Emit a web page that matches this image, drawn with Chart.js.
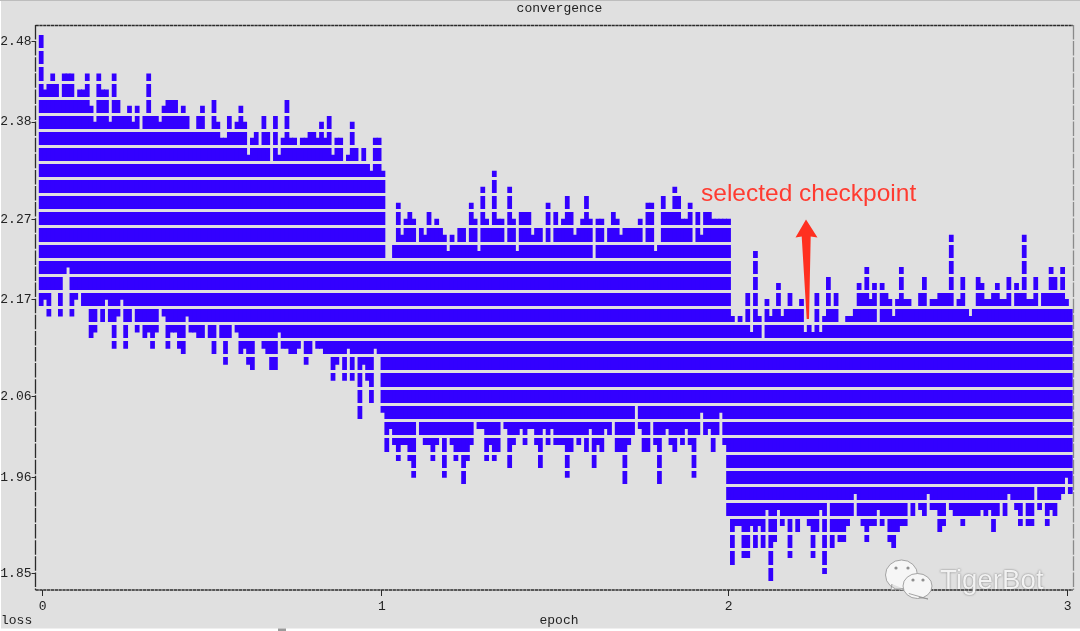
<!DOCTYPE html>
<html>
<head>
<meta charset="utf-8">
<title>convergence</title>
<script src="https://cdn.jsdelivr.net/npm/chart.js@4"></script>
<style>
  html, body { margin: 0; padding: 0; background: #fff; overflow: hidden; }
  canvas { display: block; }
</style>
</head>
<body>
<canvas id="chart" width="1080" height="631"></canvas>
<script>
// upper edge of the loss band, one value per plotted step
const upperLoss = [
  // epoch 0
  2.490,2.423,2.432,2.442,2.432,2.413,2.442,2.442,2.442,2.413,
  2.423,2.423,2.442,2.404,2.385,2.442,2.423,2.423,2.385,2.442,
  2.413,2.394,2.394,2.404,2.385,2.404,2.375,2.394,2.442,2.394,
  2.394,2.385,2.404,2.413,2.413,2.413,2.394,2.404,2.394,2.375,
  2.375,2.394,2.404,2.375,2.375,2.413,2.385,2.366,2.366,2.394,
  2.375,2.385,2.404,2.385,2.346,2.366,2.375,2.356,2.394,2.375,
  2.337,2.394,2.346,2.366,2.413,2.366,2.366,2.356,2.366,2.366,
  2.375,2.375,2.366,2.385,2.366,2.394,2.346,2.366,2.366,2.337,
  2.346,2.385,2.356,2.337,2.356,2.337,2.327,2.366,2.366,2.327,
  // epoch 1
  2.222,2.222,2.241,2.289,2.251,2.270,2.280,2.270,2.241,2.261,
  2.251,2.280,2.261,2.270,2.261,2.251,2.232,2.251,2.241,2.261,
  2.261,2.241,2.289,2.270,2.232,2.308,2.270,2.261,2.327,2.270,
  2.270,2.241,2.308,2.270,2.232,2.280,2.280,2.280,2.251,2.261,
  2.261,2.241,2.289,2.241,2.280,2.261,2.270,2.299,2.280,2.251,
  2.261,2.270,2.299,2.270,2.222,2.270,2.270,2.241,2.261,2.280,
  2.270,2.251,2.261,2.261,2.261,2.261,2.270,2.241,2.289,2.289,
  2.232,2.241,2.299,2.280,2.280,2.308,2.299,2.270,2.270,2.289,
  2.241,2.280,2.251,2.280,2.280,2.270,2.270,2.270,2.270,2.270,
  // epoch 2
  2.155,2.146,2.155,2.146,2.184,2.136,2.232,2.155,2.127,2.175,
  2.155,2.165,2.194,2.155,2.165,2.184,2.165,2.165,2.175,2.136,
  2.146,2.136,2.184,2.136,2.155,2.203,2.165,2.184,2.146,2.146,
  2.155,2.155,2.165,2.194,2.184,2.213,2.175,2.194,2.146,2.194,
  2.184,2.175,2.155,2.175,2.213,2.175,2.175,2.165,2.165,2.184,
  2.203,2.165,2.175,2.175,2.184,2.184,2.184,2.251,2.165,2.175,
  2.203,2.165,2.155,2.165,2.203,2.194,2.175,2.175,2.184,2.194,
  2.175,2.175,2.203,2.165,2.194,2.184,2.251,2.175,2.175,2.203,
  2.165,2.184,2.184,2.213,2.203,2.184,2.213,2.175,2.165
];

// lower edge of the loss band
const lowerLoss = [
  // epoch 0
  2.165,2.175,2.155,2.184,2.184,2.155,2.203,2.213,2.155,2.175,
  2.184,2.165,2.165,2.127,2.136,2.165,2.146,2.175,2.146,2.117,
  2.155,2.175,2.117,2.146,2.165,2.136,2.146,2.127,2.136,2.117,
  2.136,2.165,2.155,2.117,2.136,2.136,2.117,2.108,2.155,2.136,
  2.136,2.127,2.127,2.146,2.127,2.108,2.146,2.127,2.098,2.127,
  2.146,2.136,2.108,2.117,2.098,2.089,2.127,2.127,2.117,2.108,
  2.089,2.089,2.136,2.117,2.117,2.108,2.108,2.117,2.127,2.098,
  2.108,2.127,2.117,2.117,2.108,2.108,2.079,2.098,2.108,2.079,
  2.117,2.079,2.108,2.031,2.098,2.079,2.050,2.117,2.108,2.041,
  // epoch 1
  1.993,2.022,2.003,1.984,2.003,2.003,1.984,1.964,2.031,2.012,
  2.003,2.003,1.984,2.003,2.012,1.964,2.012,2.003,1.984,1.993,
  1.955,1.984,2.003,2.031,2.022,2.022,1.984,2.003,1.984,1.993,
  2.031,2.022,1.974,2.003,2.012,2.022,2.003,2.022,2.022,2.003,
  1.974,2.022,2.003,2.022,2.003,2.003,2.003,1.964,1.993,2.012,
  2.003,2.012,1.993,2.022,1.974,2.003,1.993,2.022,2.012,2.031,
  1.993,1.993,1.955,2.003,2.012,2.050,2.022,1.993,1.993,2.031,
  2.003,1.955,2.012,2.022,2.003,1.993,2.012,2.003,2.022,2.003,
  1.964,2.012,2.041,2.012,2.022,1.993,2.012,2.041,2.003,1.917,
  // epoch 2
  1.859,1.907,1.907,1.869,1.869,1.907,1.879,1.907,1.879,1.926,
  1.840,1.888,1.926,1.907,1.917,1.869,1.917,1.898,1.917,1.917,
  1.907,1.869,1.898,1.926,1.850,1.936,1.879,1.898,1.888,1.888,
  1.907,1.917,1.945,1.917,1.907,1.888,1.907,1.907,1.926,1.907,
  1.917,1.888,1.879,1.898,1.907,1.907,1.936,1.917,1.936,1.926,
  1.917,1.945,1.926,1.926,1.898,1.907,1.936,1.926,1.917,1.917,
  1.907,1.917,1.917,1.917,1.917,1.926,1.917,1.926,1.898,1.917,
  1.936,1.917,1.945,1.936,1.926,1.907,1.936,1.907,1.907,1.955,
  1.926,1.936,1.907,1.926,1.917,1.936,1.945,1.964,1.945
];

const lossTicks = [2.48, 2.385, 2.27, 2.175, 2.06, 1.964, 1.85];
const lossTickLabels = ['2.48', '2.38', '2.27', '2.17', '2.06', '1.96', '1.85'];
const epochTicks = [0.4, 88.75, 179, 267.3];
const epochTickLabels = ['0', '1', '2', '3'];

// the plot is a character grid, these are the gaps between its text rows
const rowGaps = [
  2.490,2.471,2.452,2.432,2.413,2.394,2.375,2.356,2.337,2.318,2.299,2.280,
  2.261,2.241,2.222,2.203,2.184,2.165,2.146,2.127,2.108,2.089,2.070,2.050,
  2.031,2.012,1.993,1.974,1.955,1.936,1.917,1.898,1.879,1.859,1.840
];

const BG = '#e0e0e0';
const BLUE = '#3300ff';
const AXIS = '#2a2a2a';
const MONO = '"Liberation Mono", monospace';

function drawText(ctx, text, x, y, font, color, align) {
  ctx.font = font;
  ctx.fillStyle = color;
  ctx.textAlign = align || 'left';
  ctx.textBaseline = 'middle';
  ctx.fillText(text, x, y);
}

function drawFrameSide(ctx, x1, y1, x2, y2, color, dash) {
  ctx.strokeStyle = color;
  ctx.setLineDash(dash);
  ctx.beginPath();
  ctx.moveTo(x1, y1);
  ctx.lineTo(x2, y2);
  ctx.stroke();
  ctx.setLineDash([]);
}

function drawBubble(ctx, x, y, rx, ry, tailX, tailY) {
  ctx.beginPath();
  ctx.ellipse(x, y, rx, ry, 0, 0, Math.PI * 2);
  ctx.moveTo(x - rx * 0.6, y + ry * 0.6);
  ctx.lineTo(tailX, tailY);
  ctx.lineTo(x + rx * 0.1, y + ry * 0.9);
  ctx.fill();
  ctx.stroke();
}

const pagePlugin = {
  id: 'page',
  beforeDraw(chart) {
    const ctx = chart.ctx;
    ctx.save();
    ctx.fillStyle = '#fff';
    ctx.fillRect(0, 0, 1080, 631);
    ctx.fillStyle = BG;
    ctx.fillRect(1, 1, 1079, 627.5);
    ctx.fillStyle = '#bdbdbd';
    ctx.fillRect(0, 0, 1080, 1);
    ctx.fillStyle = '#9a9a9a';
    ctx.fillRect(278, 628.5, 8, 2.5);
    ctx.restore();
  },
  afterDraw(chart) {
    const ctx = chart.ctx;
    const area = chart.chartArea;
    ctx.save();

    // frame, broken like the text characters it was printed with
    ctx.lineWidth = 1.3;
    drawFrameSide(ctx, area.left, area.top + 0.5, area.right, area.top + 0.5, AXIS, [3.3, 0.54]);
    drawFrameSide(ctx, area.left, area.bottom, area.right, area.bottom, AXIS, [3.3, 0.54]);
    drawFrameSide(ctx, area.left, area.top, area.left, area.bottom, AXIS, [14.5, 1.6]);
    drawFrameSide(ctx, area.right + 0.5, area.top, area.right + 0.5, area.bottom, '#8a8a8a', [14.5, 1.6]);

    drawText(ctx, 'convergence', 559.5, 8.5, '13px ' + MONO, '#222', 'center');
    drawText(ctx, 'epoch', 559, 621, '13px ' + MONO, '#222', 'center');
    drawText(ctx, 'loss', 1, 621, '13px ' + MONO, '#222');

    // annotation
    drawText(ctx, 'selected checkpoint', 701, 194, '24.5px "Liberation Sans", sans-serif', '#ff3b30');
    ctx.fillStyle = '#ff3020';
    ctx.beginPath();
    ctx.moveTo(806, 219.5);
    ctx.lineTo(817.5, 237.5);
    ctx.lineTo(810.7, 236.5);
    ctx.lineTo(809, 319);
    ctx.lineTo(806.7, 319);
    ctx.lineTo(801.7, 236.5);
    ctx.lineTo(795.5, 237.5);
    ctx.closePath();
    ctx.fill();

    // watermark
    ctx.fillStyle = '#f6f6f6';
    ctx.strokeStyle = '#8f8f8f';
    ctx.lineWidth = 0.8;
    drawBubble(ctx, 901.5, 575, 16, 15, 891, 590);
    drawBubble(ctx, 917.5, 586, 14.5, 12.5, 928, 599);
    ctx.fillStyle = '#8f8f8f';
    [[896, 568], [908, 568], [913, 580], [923, 580]].forEach(function (eye) {
      ctx.beginPath();
      ctx.arc(eye[0], eye[1], 1.6, 0, Math.PI * 2);
      ctx.fill();
    });
    ctx.shadowColor = 'rgba(80,80,80,0.8)';
    ctx.shadowBlur = 2;
    drawText(ctx, 'TigerBot', 940, 581, '27.7px "Liberation Sans", sans-serif', '#f2f2f2');
    ctx.restore();
  }
};

new Chart(document.getElementById('chart'), {
  type: 'bar',
  data: {
    datasets: [{
      label: 'loss',
      data: upperLoss.map((high, step) => ({ x: step, y: [lowerLoss[step], high] })),
      backgroundColor: BLUE,
      borderWidth: 0,
      barThickness: 4.1
    }]
  },
  options: {
    responsive: false,
    animation: false,
    devicePixelRatio: 1,
    layout: { padding: { top: 25, right: 7 } },
    plugins: { legend: { display: false }, tooltip: { enabled: false } },
    scales: {
      x: {
        type: 'linear',
        offset: false,
        min: -1.48,
        max: 268.7,
        afterFit: (scale) => { scale.height = 41; },
        afterBuildTicks: (scale) => { scale.ticks = epochTicks.map((value) => ({ value })); },
        grid: { drawOnChartArea: false, offset: false, tickColor: AXIS, tickLength: 6 },
        border: { display: false },
        ticks: {
          autoSkip: false,
          maxRotation: 0,
          padding: 3,
          color: '#222',
          font: { family: MONO, size: 13 },
          callback: (value, index) => epochTickLabels[index]
        }
      },
      y: {
        min: 1.8308,
        max: 2.4999,
        afterFit: (scale) => { scale.width = 35.5; },
        afterBuildTicks: (scale) => {
          scale.ticks = rowGaps.concat(lossTicks).map((value) => ({ value }));
        },
        grid: {
          z: 1,
          tickLength: 4,
          lineWidth: (ctx) => (lossTicks.includes(ctx.tick.value) ? 1 : 3),
          color: (ctx) => (lossTicks.includes(ctx.tick.value) ? 'transparent' : BG),
          tickColor: (ctx) => (lossTicks.includes(ctx.tick.value) ? AXIS : 'transparent')
        },
        border: { display: false },
        ticks: {
          autoSkip: false,
          padding: 0,
          color: '#222',
          font: { family: MONO, size: 13 },
          callback: (value) => {
            const at = lossTicks.indexOf(value);
            return at < 0 ? '' : lossTickLabels[at];
          }
        }
      }
    }
  },
  plugins: [pagePlugin]
});
</script>
</body>
</html>
